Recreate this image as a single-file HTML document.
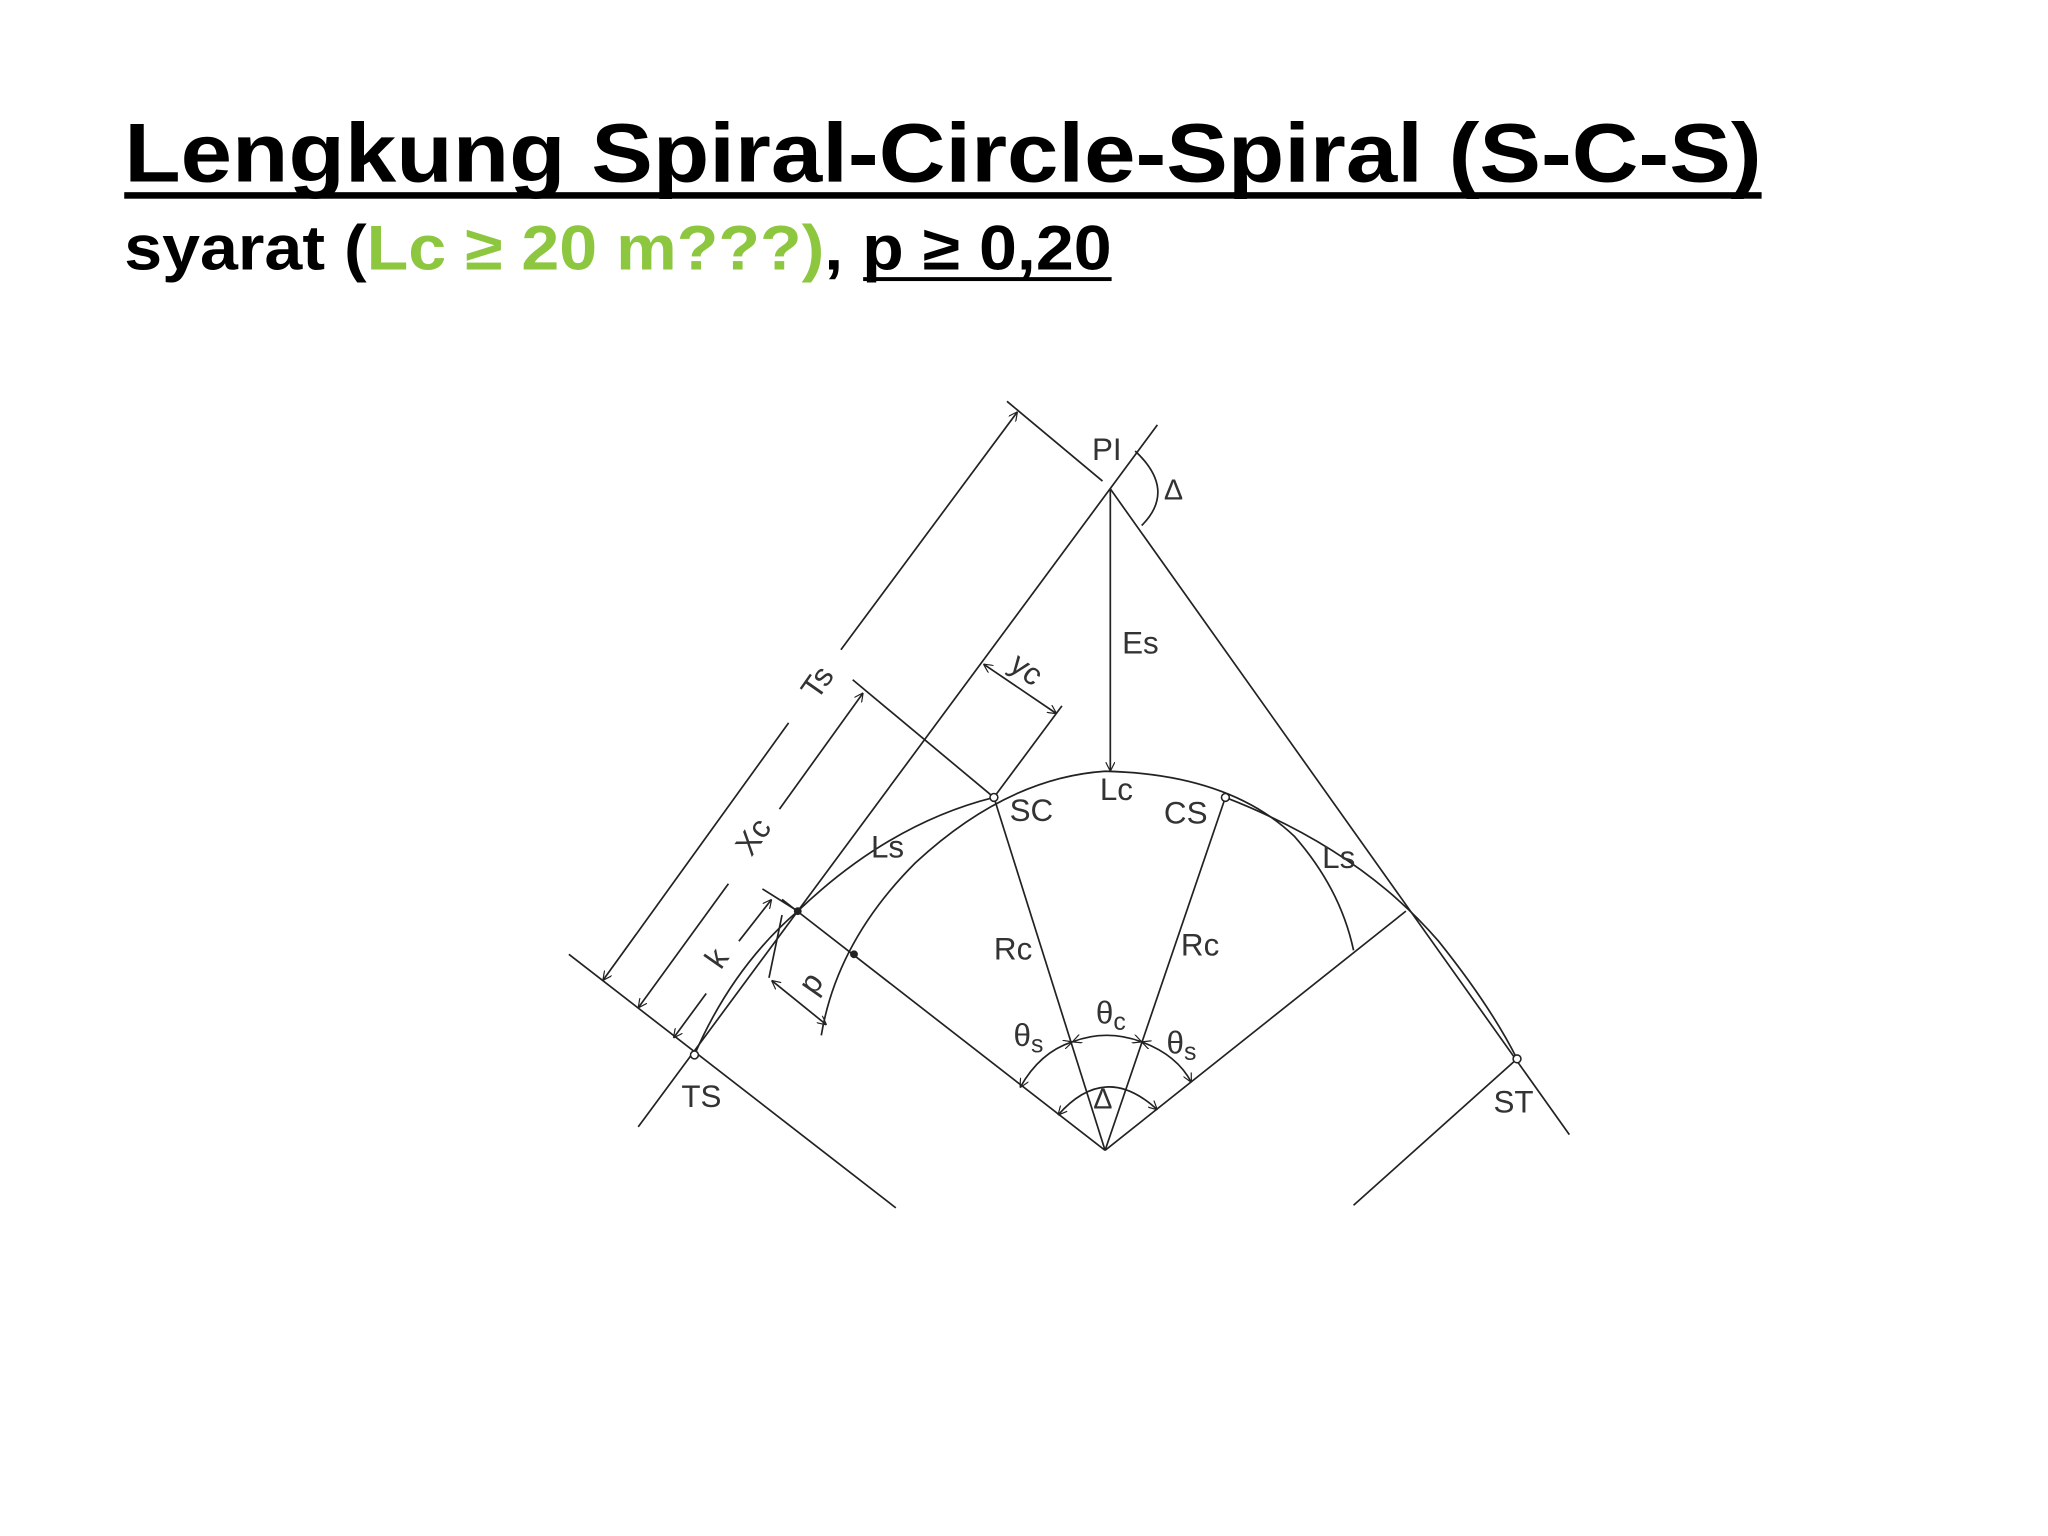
<!DOCTYPE html>
<html><head><meta charset="utf-8"><style>
html,body{margin:0;padding:0;background:#fff}
svg{display:block}
</style></head><body>
<svg width="2048" height="1536" viewBox="0 0 1566 1175" preserveAspectRatio="none" xmlns="http://www.w3.org/2000/svg">
<defs>
<marker id="ar" viewBox="0 0 10 10" refX="10" refY="5" markerWidth="7" markerHeight="7" orient="auto-start-reverse" markerUnits="userSpaceOnUse"><path d="M0,0 L10,5 L0,10" fill="none" stroke="#222" stroke-width="1.3"/></marker>
</defs>
<g font-family="Liberation Sans, Arial, sans-serif" font-weight="bold">
<text x="95" y="139" font-size="64" textLength="1252" lengthAdjust="spacingAndGlyphs">Lengkung  Spiral-Circle-Spiral (S-C-S)</text>
<rect x="95" y="147" width="1252" height="5" fill="#000"/>
<text x="95" y="206" font-size="48" textLength="755" lengthAdjust="spacingAndGlyphs">syarat (<tspan fill="#8dc63f">Lc ≥ 20 m???)</tspan>, p ≥ 0,20</text>
<rect x="660" y="212" width="190" height="3" fill="#000"/>
</g>
<g stroke="#222" stroke-width="1.3" fill="none">
<line x1="885" y1="325" x2="488" y2="862"/>
<line x1="849" y1="374" x2="1200" y2="868"/>
<line x1="435" y1="730" x2="685" y2="924"/>
<line x1="1035" y1="922" x2="1160" y2="810"/>
<line x1="845" y1="880" x2="598" y2="688"/>
<line x1="845" y1="880" x2="1075" y2="697"/>
<line x1="845" y1="880" x2="760" y2="610"/>
<line x1="845" y1="880" x2="937" y2="610"/>
<path d="M628,792 Q640,720 700,660 Q770,595 845,590 Q940,592 990,640 Q1025,680 1035,727"/>
<path d="M531,807 Q560,740 610,697 Q680,630 760,610"/>
<path d="M937,610 Q1040,650 1100,720 Q1140,770 1160,810"/>
<line x1="849" y1="374" x2="849" y2="590" marker-end="url(#ar)"/>
<path d="M868,345 Q900,375 873,402"/>
<line x1="770" y1="307" x2="843" y2="368"/>
<line x1="461" y1="750" x2="603" y2="553" marker-start="url(#ar)"/>
<line x1="643" y1="497" x2="778" y2="315" marker-end="url(#ar)"/>
<line x1="652" y1="520" x2="760" y2="610"/>
<line x1="488" y1="771" x2="557" y2="676" marker-start="url(#ar)"/>
<line x1="596" y1="619" x2="660" y2="530" marker-end="url(#ar)"/>
<line x1="515" y1="794" x2="540" y2="760" marker-start="url(#ar)"/>
<line x1="565" y1="720" x2="590" y2="688" marker-end="url(#ar)"/>
<line x1="583" y1="680" x2="610" y2="697"/>
<line x1="588" y1="748" x2="598" y2="700"/>
<line x1="590" y1="750" x2="632" y2="784" marker-start="url(#ar)" marker-end="url(#ar)"/>
<line x1="760" y1="610" x2="812" y2="540"/>
<line x1="752" y1="508" x2="808" y2="546" marker-start="url(#ar)" marker-end="url(#ar)"/>
<path d="M780,832 Q795,805 820,797" marker-start="url(#ar)" marker-end="url(#ar)"/>
<path d="M820,797 Q846,787 873,797" marker-start="url(#ar)" marker-end="url(#ar)"/>
<path d="M873,797 Q900,807 911,828" marker-start="url(#ar)" marker-end="url(#ar)"/>
<path d="M809,853 Q845,812 885,849" marker-start="url(#ar)" marker-end="url(#ar)"/>
</g>
<g fill="#fff" stroke="#222" stroke-width="1.2">
<circle cx="531" cy="807" r="3"/><circle cx="1160" cy="810" r="3"/>
<circle cx="760" cy="610" r="3"/><circle cx="937" cy="610" r="3"/>
</g>
<g fill="#222"><circle cx="610" cy="697" r="3"/><circle cx="653" cy="730" r="3"/></g>
<g font-family="Liberation Sans, Arial, sans-serif" font-size="24" fill="#333">
<text x="835" y="352">PI</text>
<text x="890" y="382" font-size="22">Δ</text>
<text x="858" y="500">Es</text>
<text x="841" y="612">Lc</text>
<text x="772" y="628">SC</text>
<text x="890" y="630">CS</text>
<text x="666" y="656">Ls</text>
<text x="1011" y="664">Ls</text>
<text x="760" y="734">Rc</text>
<text x="903" y="731">Rc</text>
<text x="775" y="800">θ<tspan font-size="19" dy="5">s</tspan></text>
<text x="838" y="783">θ<tspan font-size="19" dy="5">c</tspan></text>
<text x="892" y="806">θ<tspan font-size="19" dy="5">s</tspan></text>
<text x="836" y="848" font-size="22">Δ</text>
<text x="521" y="847">TS</text>
<text x="1142" y="851">ST</text>
<text transform="translate(625,522) rotate(-55)" text-anchor="middle" dy="8">Ts</text>
<text transform="translate(576,640) rotate(-55)" text-anchor="middle" dy="8">Xc</text>
<text transform="translate(548,733) rotate(-55)" text-anchor="middle" dy="8">k</text>
<text transform="translate(620,752) rotate(-55)" text-anchor="middle" dy="8">p</text>
<text transform="translate(785,512) rotate(37)" text-anchor="middle" dy="8">yc</text>
</g>
</svg>
</body></html>
